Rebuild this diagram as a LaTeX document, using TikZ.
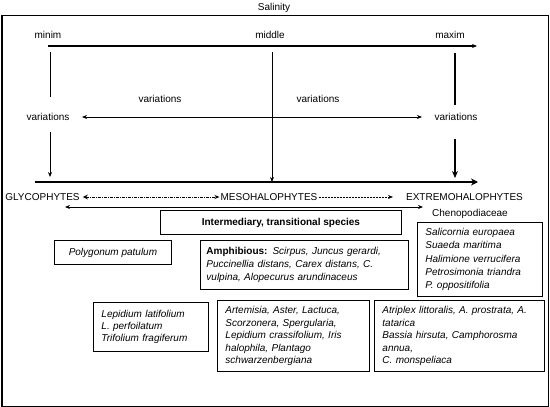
\documentclass[tikz,border=0pt]{standalone}
\usepackage{fontspec}
\setmainfont{Liberation Sans}
\usetikzlibrary{arrows.meta}
\begin{document}
\begin{tikzpicture}[x=1pt,y=-1pt,
  every node/.style={font=\fontsize{10}{13.2}\selectfont, inner sep=1pt},
  lbl/.style={anchor=center},
  spbox/.style={draw, line width=0.9pt, inner xsep=8pt, inner ysep=3pt, align=left, anchor=north west},
  conn/.style={line width=0.8pt, -{Stealth[length=5pt,width=4pt]}},
  conn2/.style={line width=0.8pt, {Stealth[length=5pt,width=4pt]}-{Stealth[length=5pt,width=4pt]}},
  thickln/.style={line width=2.6pt}
]
\useasboundingbox (0,0) rectangle (550,407);
\node[draw, line width=1.2pt, minimum width=546.5pt, minimum height=391pt, anchor=north west, inner sep=0pt] (frame) at (1.5,14.5) {};
\node[lbl] (title) at (274,8) {Salinity};
\node[lbl] (minim) at (48,35) {minim};
\node[lbl] (middle) at (270,35) {middle};
\node[lbl] (maxim) at (450,35) {maxim};
\coordinate (tl) at (48,46);
\coordinate (tr) at (477,46);
\draw[conn, line width=1.2pt] (tl) -- (tr);
% left column
\node[lbl] (varL) at (48,117) {variations};
\coordinate (l1) at (50,52);
\coordinate (l2) at (50,97);
\draw[line width=0.9pt] (l1) -- (l2);
\coordinate (l3) at (50,132);
\coordinate (l4) at (50,177);
\draw[conn] (l3) -- (l4);
% middle
\coordinate (m1) at (272,52);
\coordinate (m2) at (272,182);
\draw[conn] (m1) -- (m2);
% right
\node[lbl] (varR) at (456,117) {variations};
\coordinate (r1) at (455,53);
\coordinate (r2) at (455,105);
\draw[line width=2.4pt] (r1) -- (r2);
\coordinate (r3) at (455,139);
\coordinate (r4) at (455,178);
\draw[line width=2.4pt, -{Stealth[length=7pt,width=6pt]}] (r3) -- (r4);
% variations arrows
\node[lbl] (varA) at (160,99) {variations};
\node[lbl] (varB) at (318,99) {variations};
\coordinate (va) at (82,117);
\coordinate (vb) at (422,117);
\draw[conn2] (va) -- (vb);
% thick horizontal
\coordinate (h1) at (35,182);
\coordinate (h2) at (478,182);
\draw[line width=2.6pt, -{Stealth[length=7pt,width=7pt]}] (h1) -- (h2);
% classes
\node[lbl] (glyco) at (42.5,197) {GLYCOPHYTES};
\node[lbl] (meso) at (269,197) {MESOHALOPHYTES};
\node[lbl] (extr) at (464.5,197) {EXTREMOHALOPHYTES};
\draw[line width=0.8pt, dash pattern=on 3pt off 1pt on 1pt off 1pt, {Stealth[length=5pt,width=5pt,open]}-{Stealth[length=5pt,width=4pt]}] ([xshift=2pt]glyco.east) -- (meso.west);
\draw[line width=0.6pt, dash pattern=on 2pt off 1pt, -{Stealth[length=5pt,width=4pt]}] (meso.east) -- ([xshift=-12pt]extr.west);
\coordinate (s1) at (65,207);
\coordinate (s2) at (423,207);
\draw[conn2] (s1) -- (s2);
\node[lbl] (cheno) at (470,214) {Chenopodiaceae};
% boxes
\node[draw, line width=0.9pt, minimum width=241pt, minimum height=24pt, anchor=north west, font=\fontsize{10}{13.2}\selectfont\bfseries] (inter) at (160,210) {Intermediary, transitional species};
\node[draw, line width=0.9pt, minimum width=117pt, minimum height=24pt, anchor=north west, font=\fontsize{10}{13.2}\selectfont\itshape] (poly) at (54,240) {Polygonum patulum};
\node[spbox, text width=196pt, minimum height=49pt, inner xsep=6pt] (amph) at (200,240) {\textbf{Amphibious:} \textit{Scirpus, Juncus gerardi,}\\\textit{Puccinellia distans, Carex distans, C.}\\\textit{vulpina, Alopecurus arundinaceus}};
\node[spbox, text width=109pt, minimum height=74pt, font=\fontsize{10}{13.2}\selectfont\itshape] (sali) at (417,222) {Salicornia europaea\\Suaeda maritima\\Halimione verrucifera\\Petrosimonia triandra\\P. oppositifolia};
\node[spbox, text width=99pt, minimum height=49pt, font=\fontsize{10}{12}\selectfont\itshape] (lepi) at (93,302) {Lepidium latifolium\\L. perfoilatum\\Trifolium fragiferum};
\node[spbox, text width=136pt, minimum height=71pt, font=\fontsize{10}{12.5}\selectfont\itshape] (arte) at (217,300) {Artemisia, Aster, Lactuca,\\Scorzonera, Spergularia,\\Lepidium crassifolium, Iris\\halophila, Plantago\\schwarzenbergiana};
\node[spbox, text width=154pt, minimum height=71pt, font=\fontsize{10}{12.5}\selectfont\itshape] (atri) at (374,300) {Atriplex littoralis, A. prostrata, A.\\tatarica\\Bassia hirsuta, Camphorosma\\annua,\\C. monspeliaca};
\end{tikzpicture}
\end{document}
